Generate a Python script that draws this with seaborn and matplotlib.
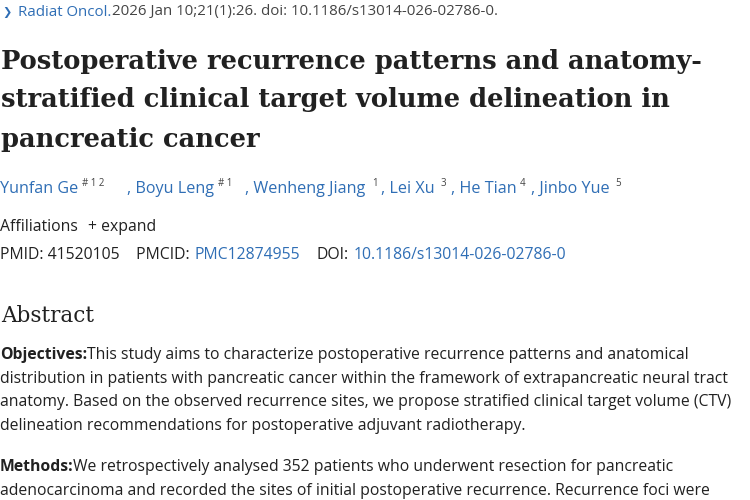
import matplotlib
matplotlib.use("Agg")
import matplotlib.pyplot as plt
import seaborn as sns

sns.set_style("white")
plt.rcParams["font.family"] = ["Open Sans", "DejaVu Sans"]

W, H = 750, 500
BLUE = "#2f6eb5"
DARK = "#212121"
GRAY = "#444444"
BODY = 11.3

# (x px, y px, text, colour, size, weight, family)
journal_line = [
    (2, 12, "❯", BLUE, 8, "normal", "DejaVu Sans"),
    (18, 12, "Radiat Oncol.", BLUE, 10.8, "normal", None),
    (112, 12, "2026 Jan 10;21(1):26. doi: 10.1186/s13014-026-02786-0.", GRAY, 10.8, "normal", None),
]
title_lines = [
    "Postoperative recurrence patterns and anatomy-",
    "stratified clinical target volume delineation in",
    "pancreatic cancer",
]
title_y = [61, 100, 139]
authors = [
    (0, "Yunfan Ge", BLUE), (82, "# 1 2", GRAY),
    (127, ", Boyu Leng", BLUE), (218, "# 1", GRAY),
    (245, ", Wenheng Jiang", BLUE), (372, "1", GRAY),
    (381, ", Lei Xu", BLUE), (441, "3", GRAY),
    (451, ", He Tian", BLUE), (520, "4", GRAY),
    (531, ", Jinbo Yue", BLUE), (615, "5", GRAY),
]
ids_line = [
    (0, "PMID: 41520105    PMCID:", DARK),
    (195, "PMC12874955", BLUE),
    (317, "DOI:", DARK),
    (354, "10.1186/s13014-026-02786-0", BLUE),
]
objectives = [
    "This study aims to characterize postoperative recurrence patterns and anatomical",
    "distribution in patients with pancreatic cancer within the framework of extrapancreatic neural tract",
    "anatomy. Based on the observed recurrence sites, we propose stratified clinical target volume (CTV)",
    "delineation recommendations for postoperative adjuvant radiotherapy.",
]
objectives_y = [355, 379, 402, 426]
methods = [
    "We retrospectively analysed 352 patients who underwent resection for pancreatic",
    "adenocarcinoma and recorded the sites of initial postoperative recurrence. Recurrence foci were",
]
methods_y = [467, 491]

fig = plt.figure(figsize=(7.5, 5), dpi=100)
fig.patch.set_facecolor("white")


def put(x, y, s, color=DARK, size=BODY, weight="normal", family=None):
    kw = dict(color=color, fontsize=size, weight=weight, va="center", ha="left")
    if family:
        kw["family"] = family
    fig.text(x / W, 1 - y / H, s, **kw)


for x, y, s, c, sz, w, fam in journal_line:
    put(x, y, s, c, sz, w, fam)

for s, y in zip(title_lines, title_y):
    put(1, y, s, DARK, 18.5, "bold", "DejaVu Serif")

for x, s, c in authors:
    if c == GRAY:
        put(x, 183, s, c, 7)
    else:
        put(x, 189, s, c, 11.6)

put(0, 227, "Affiliations", DARK)
put(88, 227, "+ expand", DARK)

for x, s, c in ids_line:
    put(x, 255, s, c)

put(1, 316, "Abstract", DARK, 15.5, "normal", "DejaVu Serif")

put(0, objectives_y[0], "Objectives:", DARK, BODY, "bold")
put(87, objectives_y[0], objectives[0], DARK)
for s, y in zip(objectives[1:], objectives_y[1:]):
    put(0, y, s, DARK)

put(0, methods_y[0], "Methods:", DARK, BODY, "bold")
put(73, methods_y[0], methods[0], DARK)
for s, y in zip(methods[1:], methods_y[1:]):
    put(0, y, s, DARK)

fig.savefig("out.png", dpi=100)
